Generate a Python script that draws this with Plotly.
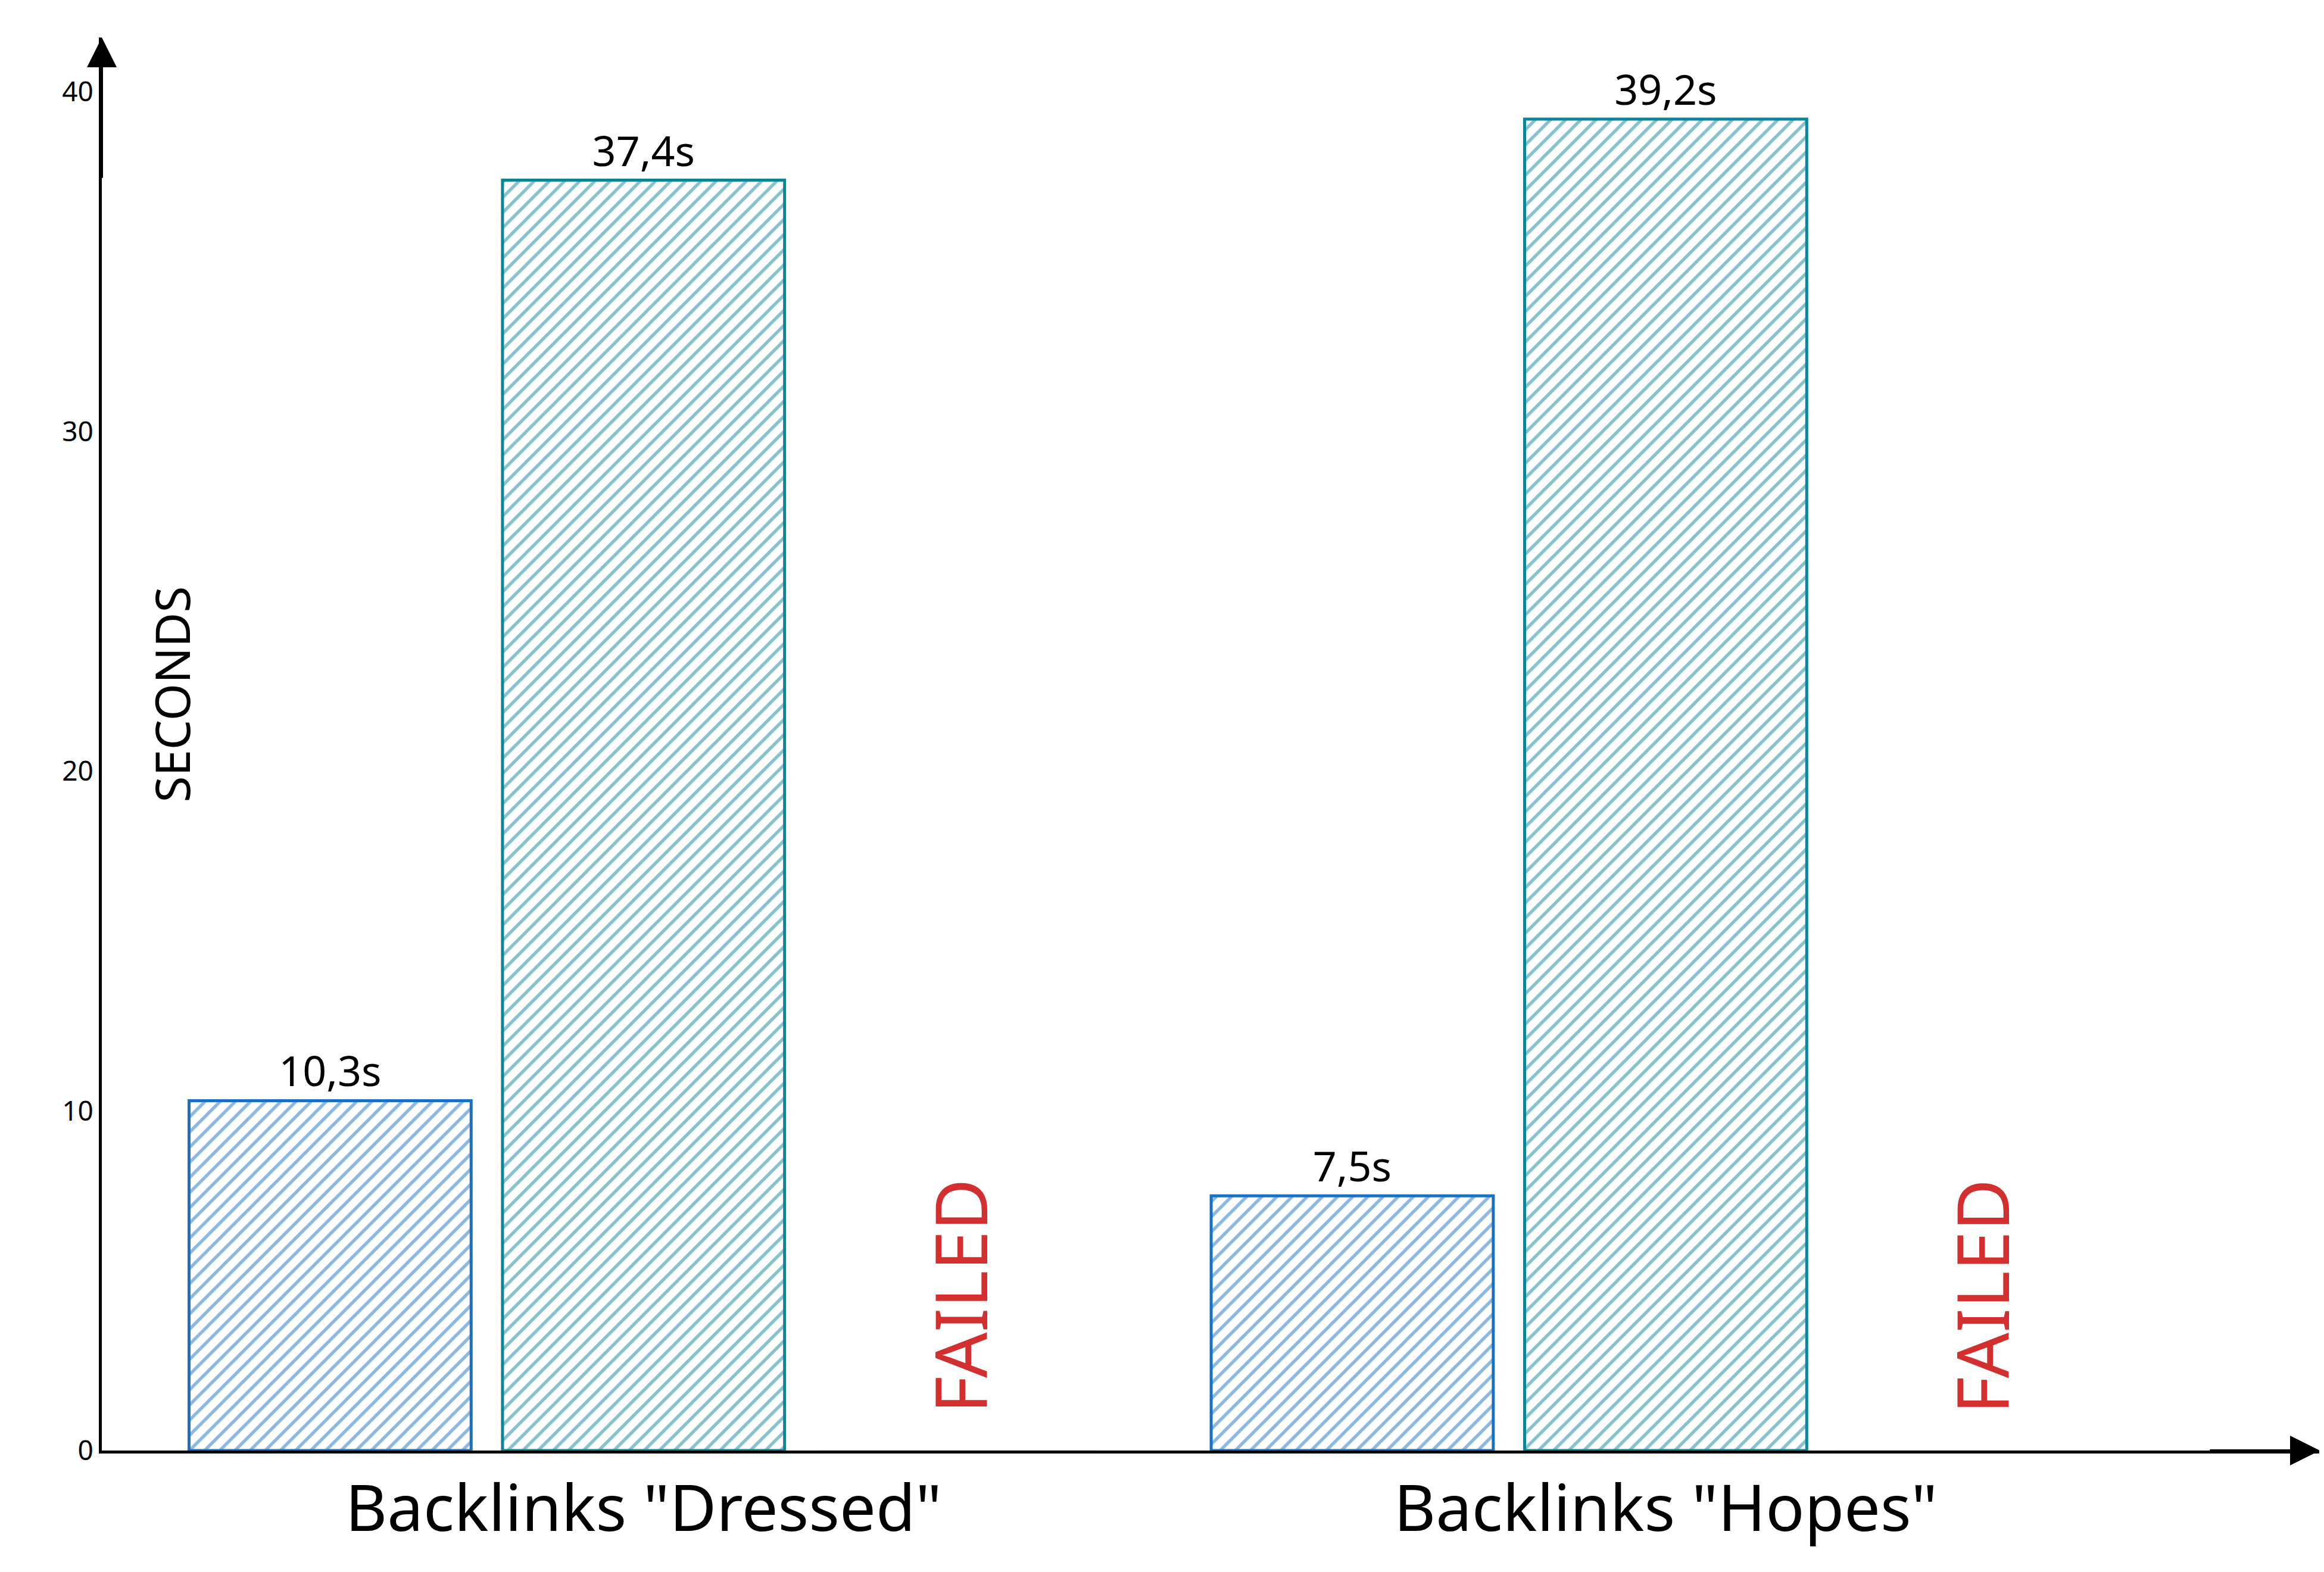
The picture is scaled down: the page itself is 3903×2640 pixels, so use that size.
import plotly.graph_objects as go

categories = ['Backlinks "Dressed"', 'Backlinks "Hopes"']
run_a = [10.3, 7.5]
run_b = [37.4, 39.2]
label_a = ["10,3s", "7,5s"]
label_b = ["37,4s", "39,2s"]
failed = ["FAILED", "FAILED"]
y_ticks = [0, 10, 20, 30, 40]

font = "Noto Sans"
blue = "#1971c2"
teal = "#0c8599"

fig = go.Figure()
fig.add_trace(go.Bar(x=categories, y=run_a, text=label_a, textposition="outside",
                     marker=dict(color="white", line=dict(color=blue, width=5),
                                 pattern=dict(shape="/", fgcolor=blue, bgcolor="white", size=18, solidity=0.3))))
fig.add_trace(go.Bar(x=categories, y=run_b, text=label_b, textposition="outside",
                     marker=dict(color="white", line=dict(color=teal, width=5),
                                 pattern=dict(shape="/", fgcolor=teal, bgcolor="white", size=18, solidity=0.3))))
# third slot: failed runs, no bar
fig.add_trace(go.Bar(x=categories, y=[0, 0], marker=dict(color="rgba(0,0,0,0)")))

for i, c in enumerate(categories):
    fig.add_annotation(x=c, y=0, text=failed[i], textangle=-90, showarrow=False,
                       xshift=530, yanchor="bottom", yshift=60,
                       font=dict(family=font, size=120, color="#d32f2f"))

fig.add_annotation(xref="paper", yref="paper", x=0.016, y=0.535, text="SECONDS",
                   textangle=-90, showarrow=False, font=dict(family=font, size=80, color="black"))
# axis arrows
fig.add_annotation(xref="x domain", yref="y domain", x=0, y=1.0, ax=0, ay=0.9,
                   axref="x domain", ayref="y domain",
                   showarrow=True, arrowhead=2, arrowsize=2.5, arrowwidth=4, arrowcolor="black", text="")
fig.add_annotation(xref="x domain", yref="y domain", x=1.0, y=0, ax=0.95, ay=0,
                   axref="x domain", ayref="y domain",
                   showarrow=True, arrowhead=2, arrowsize=2.5, arrowwidth=4, arrowcolor="black", text="")

fig.update_layout(
    width=3903, height=2640, barmode="group", bargap=0.08, bargroupgap=0.1,
    showlegend=False, plot_bgcolor="white", paper_bgcolor="white",
    margin=dict(l=163, r=15, t=55, b=212),
    font=dict(family=font, color="black"),
    uniformtext=dict(minsize=60, mode="show"),
)
fig.update_traces(textfont=dict(family=font, size=70, color="black"), cliponaxis=False,
                  selector=dict(type="bar"))
fig.update_xaxes(range=[-0.53, 1.64], showline=True, linecolor="black", linewidth=5,
                 ticks="", tickfont=dict(family=font, size=108), showgrid=False)
fig.update_yaxes(range=[0, 41.6], tickvals=y_ticks, showline=True, linecolor="black",
                 linewidth=5, ticks="", showgrid=False, zeroline=False,
                 tickfont=dict(family=font, size=46))
fig.write_html("out.html")
